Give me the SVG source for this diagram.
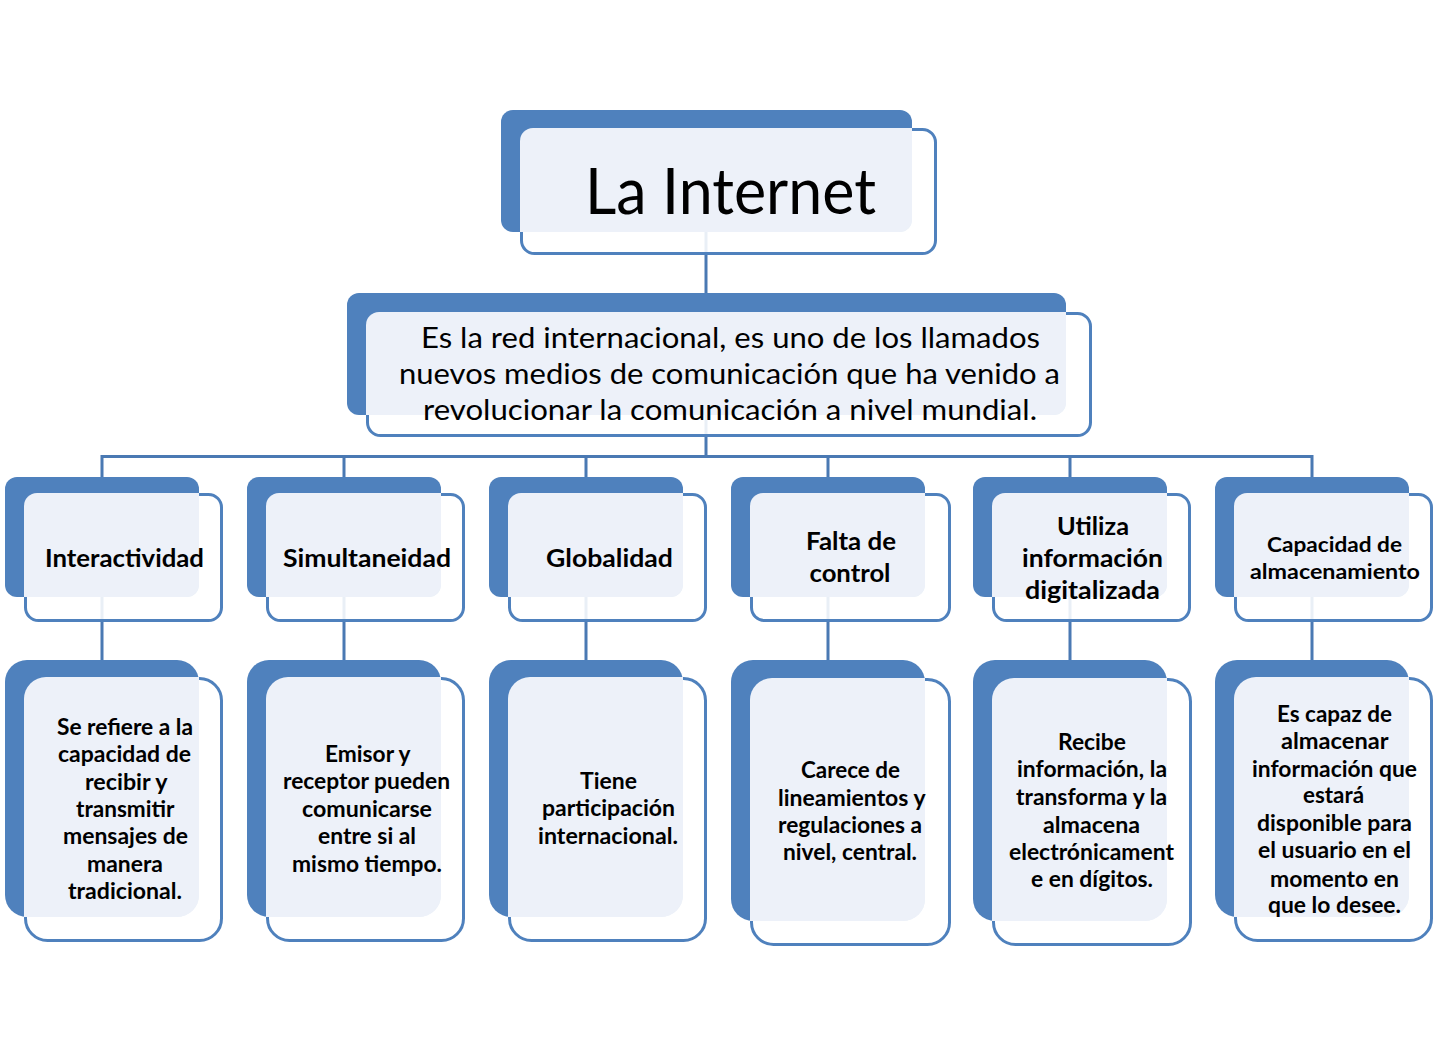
<svg xmlns="http://www.w3.org/2000/svg" width="1439" height="1053" viewBox="0 0 1439 1053">
<style>
.back{fill:#4f81bd}
.front{fill:#ffffff;fill-opacity:.88;stroke:#4f81bd;stroke-width:3}
.ov{fill:#edf1f9}
.conn{stroke:#4a79b3;stroke-width:3;fill:none}
.t{font-family:Lato,"Liberation Sans",sans-serif;fill:#000;text-anchor:start}
.b{font-weight:bold}
.s1{font-size:25px}
.s2{font-size:22px}
.s3{font-size:21px}
</style>
<rect width="1439" height="1053" fill="#ffffff"/>
<g id="connectors">
<path class="conn" d="M706,232 V293"/>
<path class="conn" d="M706,415 V456.5"/>
<path class="conn" d="M102,477 V456.5 H1312 V477"/>
<path class="conn" d="M344,456.5 V477 M586,456.5 V477 M828,456.5 V477 M1070,456.5 V477"/>
<path class="conn" d="M102,597 V660 M344,597 V660 M586,597 V660 M828,597 V660 M1070,597 V660 M1312,597 V660"/>
</g>
<g id="n-top">
<rect class="back" x="501" y="110" width="411" height="122" rx="12"/>
<rect class="front" x="521.5" y="129.5" width="414" height="124" rx="13"/>
<path class="ov" d="M520,141 A13 13 0 0 1 533,128 H912 V219 A13 13 0 0 1 899,232 H520 Z"/>
<text class="t" x="585" y="214" font-size="64" textLength="291" lengthAdjust="spacingAndGlyphs">La Internet</text>
</g>
<g id="n-mid">
<rect class="back" x="347" y="293" width="719" height="122" rx="12"/>
<rect class="front" x="367.5" y="313.5" width="723" height="122" rx="13"/>
<path class="ov" d="M366,325 A13 13 0 0 1 379,312 H1066 V402 A13 13 0 0 1 1053,415 H366 Z"/>
<text class="t" font-size="28">
<tspan x="421" y="348" textLength="619" lengthAdjust="spacingAndGlyphs">Es la red internacional, es uno de los llamados</tspan>
<tspan x="399" y="384" textLength="661" lengthAdjust="spacingAndGlyphs">nuevos medios de comunicación que ha venido a</tspan>
<tspan x="423" y="420" textLength="614" lengthAdjust="spacingAndGlyphs">revolucionar la comunicación a nivel mundial.</tspan>
</text>
</g>
<g id="n-a1">
<rect class="back" x="5" y="477" width="194" height="120" rx="12"/>
<rect class="front" x="25.5" y="494.5" width="196" height="126" rx="13"/>
<path class="ov" d="M24,506 A13 13 0 0 1 37,493 H199 V584 A13 13 0 0 1 186,597 H24 Z"/>
<text class="t b s1" x="45" y="567" textLength="159" lengthAdjust="spacingAndGlyphs">Interactividad</text>
</g>
<g id="n-a2">
<rect class="back" x="247" y="477" width="194" height="120" rx="12"/>
<rect class="front" x="267.5" y="494.5" width="196" height="126" rx="13"/>
<path class="ov" d="M266,506 A13 13 0 0 1 279,493 H441 V584 A13 13 0 0 1 428,597 H266 Z"/>
<text class="t b s1" x="283" y="567" textLength="168" lengthAdjust="spacingAndGlyphs">Simultaneidad</text>
</g>
<g id="n-a3">
<rect class="back" x="489" y="477" width="194" height="120" rx="12"/>
<rect class="front" x="509.5" y="494.5" width="196" height="126" rx="13"/>
<path class="ov" d="M508,506 A13 13 0 0 1 521,493 H683 V584 A13 13 0 0 1 670,597 H508 Z"/>
<text class="t b s1" x="546" y="567" textLength="127" lengthAdjust="spacingAndGlyphs">Globalidad</text>
</g>
<g id="n-a4">
<rect class="back" x="731" y="477" width="194" height="120" rx="12"/>
<rect class="front" x="751.5" y="494.5" width="198" height="126" rx="13"/>
<path class="ov" d="M750,506 A13 13 0 0 1 763,493 H925 V584 A13 13 0 0 1 912,597 H750 Z"/>
<text class="t b s1">
<tspan x="806" y="550" textLength="90" lengthAdjust="spacingAndGlyphs">Falta de</tspan>
<tspan x="809.5" y="582" textLength="81" lengthAdjust="spacingAndGlyphs">control</tspan>
</text>
</g>
<g id="n-a5">
<rect class="back" x="973" y="477" width="194" height="120" rx="12"/>
<rect class="front" x="993.5" y="494.5" width="196" height="126" rx="13"/>
<path class="ov" d="M992,506 A13 13 0 0 1 1005,493 H1167 V584 A13 13 0 0 1 1154,597 H992 Z"/>
<text class="t b s1">
<tspan x="1057" y="535" textLength="72" lengthAdjust="spacingAndGlyphs">Utiliza</tspan>
<tspan x="1022" y="567" textLength="141" lengthAdjust="spacingAndGlyphs">información</tspan>
<tspan x="1025" y="599" textLength="135" lengthAdjust="spacingAndGlyphs">digitalizada</tspan>
</text>
</g>
<g id="n-a6">
<rect class="back" x="1215" y="477" width="194" height="120" rx="12"/>
<rect class="front" x="1235.5" y="494.5" width="196" height="126" rx="13"/>
<path class="ov" d="M1234,506 A13 13 0 0 1 1247,493 H1409 V584 A13 13 0 0 1 1396,597 H1234 Z"/>
<text class="t b s3">
<tspan x="1267" y="552" textLength="135" lengthAdjust="spacingAndGlyphs">Capacidad de</tspan>
<tspan x="1250" y="579" textLength="170" lengthAdjust="spacingAndGlyphs">almacenamiento</tspan>
</text>
</g>
<g id="n-b1">
<rect class="back" x="5" y="660" width="194" height="257" rx="22"/>
<rect class="front" x="25.5" y="678.5" width="196" height="262" rx="22"/>
<path class="ov" d="M24,699 A22 22 0 0 1 46,677 H199 V895 A22 22 0 0 1 177,917 H24 Z"/>
<text class="t b s2">
<tspan x="57" y="735" textLength="136" lengthAdjust="spacingAndGlyphs">Se refiere a la</tspan>
<tspan x="58" y="762" textLength="133" lengthAdjust="spacingAndGlyphs">capacidad de</tspan>
<tspan x="85" y="790" textLength="82" lengthAdjust="spacingAndGlyphs">recibir y</tspan>
<tspan x="76" y="817" textLength="98" lengthAdjust="spacingAndGlyphs">transmitir</tspan>
<tspan x="63" y="844" textLength="125" lengthAdjust="spacingAndGlyphs">mensajes de</tspan>
<tspan x="87" y="872" textLength="76" lengthAdjust="spacingAndGlyphs">manera</tspan>
<tspan x="68" y="899" textLength="114" lengthAdjust="spacingAndGlyphs">tradicional.</tspan>
</text>
</g>
<g id="n-b2">
<rect class="back" x="247" y="660" width="194" height="257" rx="22"/>
<rect class="front" x="267.5" y="678.5" width="196" height="262" rx="22"/>
<path class="ov" d="M266,699 A22 22 0 0 1 288,677 H441 V895 A22 22 0 0 1 419,917 H266 Z"/>
<text class="t b s2">
<tspan x="325" y="762" textLength="85" lengthAdjust="spacingAndGlyphs">Emisor y</tspan>
<tspan x="283" y="789" textLength="167" lengthAdjust="spacingAndGlyphs">receptor pueden</tspan>
<tspan x="302" y="817" textLength="130" lengthAdjust="spacingAndGlyphs">comunicarse</tspan>
<tspan x="318" y="844" textLength="98" lengthAdjust="spacingAndGlyphs">entre si al</tspan>
<tspan x="292" y="872" textLength="150" lengthAdjust="spacingAndGlyphs">mismo tiempo.</tspan>
</text>
</g>
<g id="n-b3">
<rect class="back" x="489" y="660" width="194" height="257" rx="22"/>
<rect class="front" x="509.5" y="678.5" width="196" height="262" rx="22"/>
<path class="ov" d="M508,699 A22 22 0 0 1 530,677 H683 V895 A22 22 0 0 1 661,917 H508 Z"/>
<text class="t b s2">
<tspan x="580" y="789" textLength="57" lengthAdjust="spacingAndGlyphs">Tiene</tspan>
<tspan x="542" y="816" textLength="133" lengthAdjust="spacingAndGlyphs">participación</tspan>
<tspan x="538" y="844" textLength="140" lengthAdjust="spacingAndGlyphs">internacional.</tspan>
</text>
</g>
<g id="n-b4">
<rect class="back" x="731" y="660" width="194" height="261" rx="22"/>
<rect class="front" x="751.5" y="679.5" width="198" height="265" rx="22"/>
<path class="ov" d="M750,700 A22 22 0 0 1 772,678 H925 V899 A22 22 0 0 1 903,921 H750 Z"/>
<text class="t b s2">
<tspan x="801" y="778" textLength="99" lengthAdjust="spacingAndGlyphs">Carece de</tspan>
<tspan x="778" y="806" textLength="147" lengthAdjust="spacingAndGlyphs">lineamientos y</tspan>
<tspan x="778" y="833" textLength="144" lengthAdjust="spacingAndGlyphs">regulaciones a</tspan>
<tspan x="783" y="860" textLength="134" lengthAdjust="spacingAndGlyphs">nivel, central.</tspan>
</text>
</g>
<g id="n-b5">
<rect class="back" x="973" y="660" width="194" height="261" rx="22"/>
<rect class="front" x="993.5" y="679.5" width="197" height="265" rx="22"/>
<path class="ov" d="M992,700 A22 22 0 0 1 1014,678 H1167 V899 A22 22 0 0 1 1145,921 H992 Z"/>
<text class="t b s2">
<tspan x="1058" y="750" textLength="68" lengthAdjust="spacingAndGlyphs">Recibe</tspan>
<tspan x="1017" y="777" textLength="150" lengthAdjust="spacingAndGlyphs">información, la</tspan>
<tspan x="1016" y="805" textLength="151" lengthAdjust="spacingAndGlyphs">transforma y la</tspan>
<tspan x="1043" y="833" textLength="97" lengthAdjust="spacingAndGlyphs">almacena</tspan>
<tspan x="1009" y="860" textLength="165" lengthAdjust="spacingAndGlyphs">electrónicament</tspan>
<tspan x="1031" y="887" textLength="122" lengthAdjust="spacingAndGlyphs">e en dígitos.</tspan>
</text>
</g>
<g id="n-b6">
<rect class="back" x="1215" y="660" width="194" height="257" rx="22"/>
<rect class="front" x="1235.5" y="678.5" width="196" height="262" rx="22"/>
<path class="ov" d="M1234,699 A22 22 0 0 1 1256,677 H1409 V895 A22 22 0 0 1 1387,917 H1234 Z"/>
<text class="t b s2">
<tspan x="1277" y="722" textLength="115" lengthAdjust="spacingAndGlyphs">Es capaz de</tspan>
<tspan x="1281" y="749" textLength="107" lengthAdjust="spacingAndGlyphs">almacenar</tspan>
<tspan x="1252" y="777" textLength="165" lengthAdjust="spacingAndGlyphs">información que</tspan>
<tspan x="1303" y="803" textLength="61" lengthAdjust="spacingAndGlyphs">estará</tspan>
<tspan x="1257" y="831" textLength="155" lengthAdjust="spacingAndGlyphs">disponible para</tspan>
<tspan x="1258" y="858" textLength="153" lengthAdjust="spacingAndGlyphs">el usuario en el</tspan>
<tspan x="1270" y="887" textLength="129" lengthAdjust="spacingAndGlyphs">momento en</tspan>
<tspan x="1268" y="913" textLength="133" lengthAdjust="spacingAndGlyphs">que lo desee.</tspan>
</text>
</g>
</svg>
